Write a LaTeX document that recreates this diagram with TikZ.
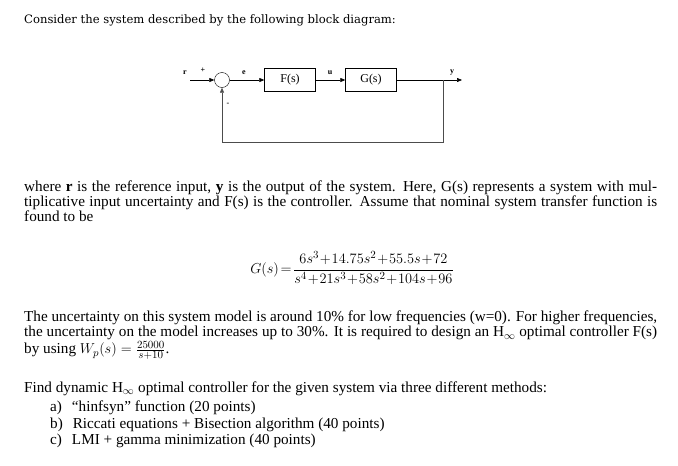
\documentclass[tikz,border=0pt]{standalone}
\usepackage{fontspec}
\usepackage{amsmath}
\setmainfont{Liberation Serif}
\newfontfamily\headfont{DejaVu Serif}
\usetikzlibrary{arrows.meta}
\begin{document}
\begin{tikzpicture}[x=1pt,y=-1pt,
  blk/.style={draw,minimum width=51pt,minimum height=23pt,inner sep=0pt,font=\fontsize{12}{13}\selectfont},
  sig/.style={-{Triangle[length=5pt,width=4pt]},line width=0.6pt},
  lbl/.style={font=\fontsize{8}{9}\selectfont\bfseries,inner sep=0pt},
  txt/.style={inner sep=0pt,font=\fontsize{15.2}{15}\selectfont},
  para/.style={txt,anchor=north west,text width=633pt,align=justify}]
\useasboundingbox (0,0) rectangle (678,466);
\node[anchor=west,inner sep=0pt,font=\headfont\fontsize{11.6}{13}\selectfont] (head) at (24,20) {Consider the system described by the following block diagram:};
% block diagram
\coordinate (rin) at (190,80);
\node[draw,circle,minimum size=15pt,inner sep=0pt] (sum) at (222,80) {};
\node[blk] (F) at (290,80) {F(s)};
\node[blk] (G) at (371,80) {G(s)};
\coordinate (yout) at (462,80);
\coordinate (tap) at (443,80);
\draw[sig] (rin) -- (sum);
\draw[sig] (sum) -- (F);
\draw[sig] (F) -- (G);
\draw[sig] (G) -- (yout);
\draw[line width=0.8pt,draw=black!70] (tap) |- (222,142);
\draw[sig,draw=black!70] (222,142) -- (sum.south);
\node[lbl] (rl) at (185,73) {r};
\node[lbl] (pl) at (203,70) {+};
\node[lbl] (ml) at (228,104) {-};
\node[lbl] (el) at (244,73) {e};
\node[lbl] (ul) at (330,73) {u};
\node[lbl] (yl) at (452,73) {y};
% paragraph 1
\node[para] (p1) at (24,181) {where \textbf{r} is the reference input, \textbf{y} is the output of the system. Here, G(s) represents a system with multiplicative input uncertainty and F(s) is the controller. Assume that nominal system transfer function is found to be\hfill\null};
% equation
\node[inner sep=0pt,font=\fontsize{15.5}{17}\selectfont] (eq) at (352,268) {$G\!\left(s\right)\!=\!\dfrac{6s^{3}\!+\!14.75s^{2}\!+\!55.5s\!+\!72}{s^{4}\!+\!21s^{3}\!+\!58s^{2}\!+\!104s\!+\!96}$};
% paragraph 2
\node[para] (p2) at (24,311) {The uncertainty on this system model is around 10\% for low frequencies (w=0). For higher frequencies, the uncertainty on the model increases up to 30\%. It is required to design an H$_\infty$ optimal controller F(s) by using $W_p(s)=\frac{25000}{s+10}$.\hfill\null};
% list
\node[txt,anchor=west] (find) at (24,389) {Find dynamic H$_\infty$ optimal controller for the given system via three different methods:};
\node[txt,anchor=west] (a) at (50,408) {a)\hspace{10pt}``hinfsyn'' function (20 points)};
\node[txt,anchor=west] (b) at (50,425) {b)\hspace{10pt}Riccati equations + Bisection algorithm (40 points)};
\node[txt,anchor=west] (c) at (50,441) {c)\hspace{10pt}LMI + gamma minimization (40 points)};
\end{tikzpicture}
\end{document}
